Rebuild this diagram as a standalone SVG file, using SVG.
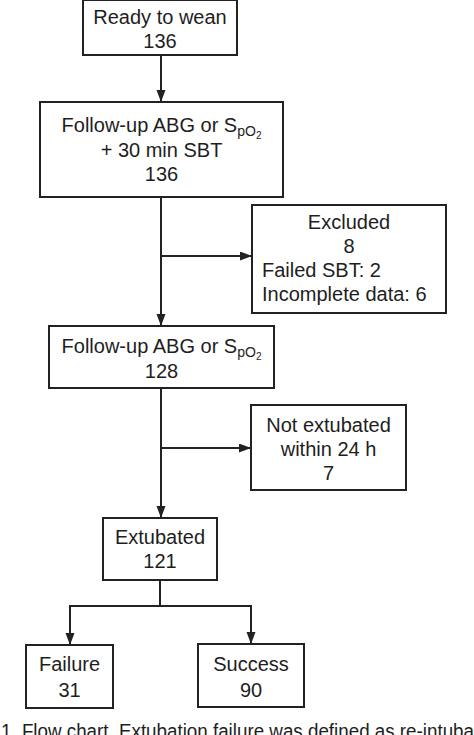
<svg xmlns="http://www.w3.org/2000/svg" width="474" height="735" viewBox="0 0 474 735">
<defs>
<marker id="ah" markerUnits="userSpaceOnUse" markerWidth="13" markerHeight="10" refX="12" refY="4.5" orient="auto">
<path d="M0,0 L12,4.5 L0,9 z" fill="#222"/>
</marker>
<style>
rect{fill:#fff;stroke:#222;stroke-width:2}
text{font-family:"Liberation Sans",Arial,sans-serif;font-size:20px;fill:#1e1e1e;text-anchor:middle}
.l{text-anchor:start}
.c line,.c path{stroke:#222;stroke-width:2;fill:none}
.sub{font-size:14px}
.sub2{font-size:10px}
</style>
</defs>
<rect x="0" y="0" width="474" height="735" style="stroke:none;fill:#fff"/>
<g class="c" id="connectors">
<line x1="161" y1="55" x2="161" y2="102" marker-end="url(#ah)"/>
<line x1="161" y1="197" x2="161" y2="326" marker-end="url(#ah)"/>
<line x1="161" y1="256" x2="252" y2="256" marker-end="url(#ah)"/>
<line x1="161" y1="388" x2="161" y2="518" marker-end="url(#ah)"/>
<line x1="161" y1="448" x2="251" y2="448" marker-end="url(#ah)"/>
<path d="M160,580 V606 M70,606 H251"/>
<line x1="70" y1="605" x2="70" y2="645" marker-end="url(#ah)"/>
<line x1="251" y1="605" x2="251" y2="644" marker-end="url(#ah)"/>
</g>
<g id="ready">
<rect x="83" y="0" width="154" height="55"/>
<text x="160" y="23.5">Ready to wean</text>
<text x="160" y="48">136</text>
</g>
<g id="followup1">
<rect x="40" y="102" width="243" height="95"/>
<text x="161.5" y="132">Follow-up ABG or S<tspan class="sub" dy="4">pO</tspan><tspan class="sub2" dy="3">2</tspan></text>
<text x="161.5" y="157">+ 30 min SBT</text>
<text x="161.5" y="181">136</text>
</g>
<g id="excluded">
<rect x="252" y="205" width="194" height="108"/>
<text x="349" y="229">Excluded</text>
<text x="349" y="253">8</text>
<text class="l" x="262" y="277">Failed SBT: 2</text>
<text class="l" x="262" y="301">Incomplete data: 6</text>
</g>
<g id="followup2">
<rect x="49" y="326" width="225" height="62"/>
<text x="161.5" y="353">Follow-up ABG or S<tspan class="sub" dy="4">pO</tspan><tspan class="sub2" dy="3">2</tspan></text>
<text x="161.5" y="378">128</text>
</g>
<g id="notextubated">
<rect x="251" y="405" width="155" height="85"/>
<text x="328.5" y="432">Not extubated</text>
<text x="328.5" y="456">within 24 h</text>
<text x="328.5" y="480">7</text>
</g>
<g id="extubated">
<rect x="103" y="518" width="114" height="62"/>
<text x="160" y="544">Extubated</text>
<text x="160" y="568">121</text>
</g>
<g id="failure">
<rect x="26" y="645" width="87" height="63"/>
<text x="69.5" y="671">Failure</text>
<text x="69.5" y="697">31</text>
</g>
<g id="success">
<rect x="198" y="644" width="106" height="63"/>
<text x="251" y="671">Success</text>
<text x="251" y="697">90</text>
</g>
<text class="l" x="1" y="738" textLength="473" lengthAdjust="spacingAndGlyphs">1. Flow chart. Extubation failure was defined as re-intuba</text>
</svg>
